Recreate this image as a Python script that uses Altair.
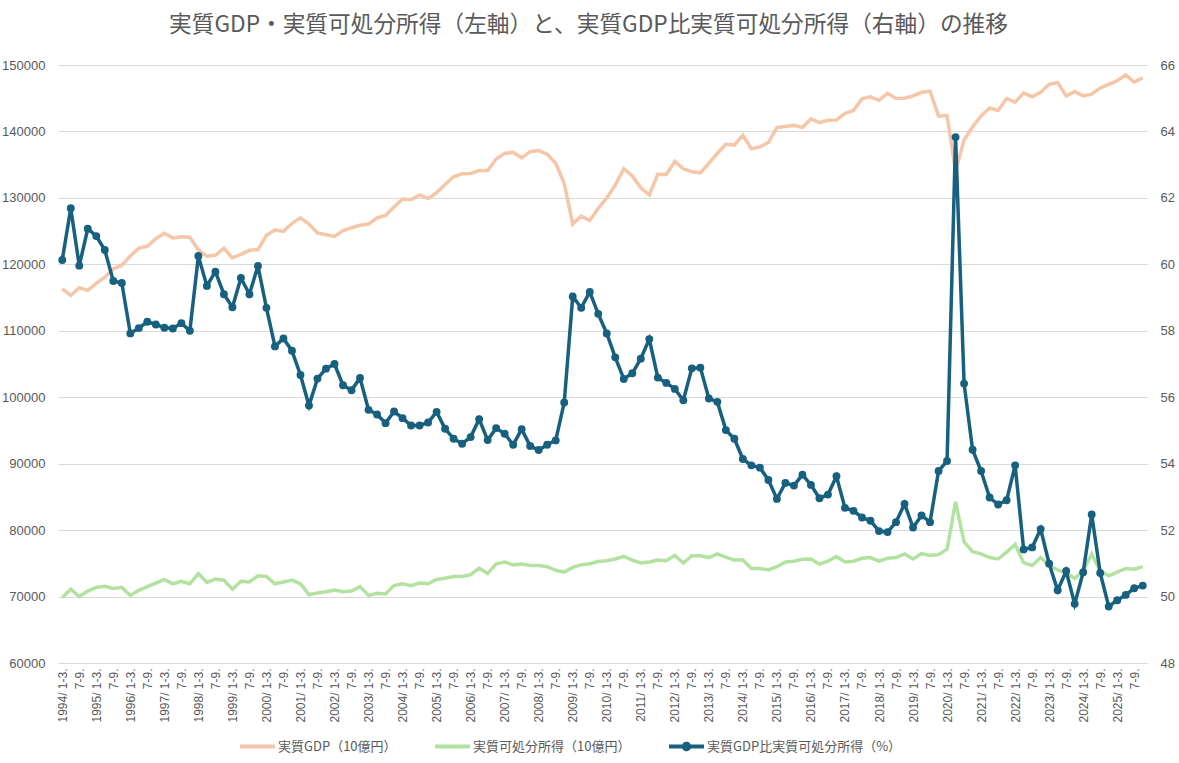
import altair as alt
import pandas as pd

years = list(range(1994, 2026))
quarters = ["1-3.", "4-6.", "7-9.", "10-12."]
periods = [f"{y}/ {q}" for y in years for q in quarters]

series_names = ["実質GDP（10億円）", "実質可処分所得（10億円）", "実質GDP比実質可処分所得（%）"]
series_colors = ["#F5C6A8", "#B3E2A0", "#17607F"]

gdp = [
    116300, 115320, 116470, 116090, 117130, 118060, 119320, 119870,
    121240, 122440, 122710, 123860, 124690, 123980, 124140, 124080,
    122170, 121240, 121350, 122440, 120960, 121510, 122110, 122220,
    124360, 125180, 124960, 126170, 126990, 126060, 124740, 124450,
    124190, 125070, 125510, 125890, 126060, 126990, 127370, 128630,
    129840, 129730, 130440, 129890, 130770, 132030, 133180, 133620,
    133670, 134110, 134110, 135860, 136690, 136850, 136030, 136960,
    137120, 136580, 135210, 132190, 126060, 127260, 126600, 128440,
    130000, 131920, 134380, 133290, 131530, 130440, 133560, 133510,
    135480, 134380, 133950, 133780, 135210, 136690, 138060, 137950,
    139430, 137400, 137670, 138330, 140580, 140740, 140910, 140580,
    141890, 141340, 141670, 141730, 142710, 143150, 144900, 145200,
    144690, 145730, 144960, 145010, 145340, 145890, 146060, 142300,
    142400, 134000, 138700, 140690, 142330, 143530, 143150, 144960,
    144410, 145780, 145230, 145890, 147100, 147370, 145340, 146000,
    145340, 145620, 146550, 147100, 147640, 148520, 147420, 148080,
]

income = [
    69840, 71100, 70000, 70830, 71380, 71540, 71210, 71380,
    70170, 70940, 71490, 72030, 72580, 71920, 72310, 71920,
    73460, 72140, 72640, 72470, 71100, 72310, 72200, 73130,
    73020, 71920, 72200, 72470, 71920, 70280, 70550, 70720,
    70990, 70720, 70830, 71490, 70170, 70500, 70390, 71650,
    71920, 71650, 72030, 71920, 72580, 72750, 73020, 73020,
    73290, 74280, 73460, 74940, 75210, 74770, 74880, 74660,
    74660, 74500, 73950, 73680, 74390, 74770, 74940, 75270,
    75380, 75650, 76040, 75490, 75050, 75210, 75490, 75380,
    76200, 75050, 76150, 76150, 75870, 76420, 75930, 75490,
    75490, 74230, 74230, 74010, 74500, 75210, 75320, 75600,
    75650, 74880, 75320, 76040, 75210, 75320, 75760, 75870,
    75320, 75760, 75870, 76420, 75650, 76480, 76200, 76310,
    77130, 84250, 78230, 76750, 76420, 75870, 75650, 76690,
    77840, 75100, 74660, 75870, 74660, 74010, 73570, 72750,
    73840, 76420, 73840, 73130, 73680, 74230, 74120, 74500,
]

ratio = [
    60.13, 61.69, 59.96, 61.07, 60.85, 60.43, 59.50, 59.44,
    57.92, 58.08, 58.27, 58.19, 58.09, 58.07, 58.23, 58.00,
    60.25, 59.35, 59.78, 59.10, 58.71, 59.59, 59.10, 59.95,
    58.69, 57.53, 57.77, 57.40, 56.67, 55.75, 56.56, 56.86,
    57.00, 56.36, 56.21, 56.58, 55.62, 55.48, 55.22, 55.57,
    55.37, 55.15, 55.15, 55.24, 55.56, 55.05, 54.75, 54.60,
    54.80, 55.34, 54.71, 55.07, 54.90, 54.57, 55.04, 54.53,
    54.41, 54.57, 54.70, 55.84, 59.03, 58.69, 59.17, 58.51,
    57.92, 57.20, 56.55, 56.72, 57.16, 57.75, 56.59, 56.43,
    56.25, 55.91, 56.87, 56.89, 55.96, 55.86, 55.01, 54.75,
    54.14, 53.95, 53.88, 53.51, 52.94, 53.42, 53.34, 53.67,
    53.36, 52.96, 53.07, 53.62, 52.67, 52.58, 52.38, 52.28,
    51.97, 51.94, 52.24, 52.79, 52.08, 52.44, 52.24, 53.78,
    54.08, 63.83, 56.41, 54.42, 53.78, 52.98, 52.77, 52.90,
    53.95, 51.42, 51.48, 52.03, 50.99, 50.19, 50.77, 49.78,
    50.73, 52.47, 50.71, 49.70, 49.89, 50.05, 50.25, 50.33,
]

left_ticks = list(range(60000, 150001, 10000))
right_ticks = list(range(48, 67, 2))

left_df = pd.DataFrame(
    {
        "period": periods * 2,
        "series": [series_names[0]] * len(periods) + [series_names[1]] * len(periods),
        "value": gdp + income,
    }
)
right_df = pd.DataFrame(
    {"period": periods, "series": [series_names[2]] * len(periods), "value": ratio}
)

GRAY = "#595959"
NUM_FONT = "Liberation Sans"
JP_FONT = "Noto Sans CJK JP"

# legend symbols: a thick line, and a thick line with a dot for the marker series
LINE_SYM = "M-1,-0.12H1V0.12H-1Z"
DOT_SYM = "M-1,-0.12H1V0.12H-1Z M-0.27,0A0.27,0.27 0 1,1 0.27,0A0.27,0.27 0 1,1 -0.27,0Z"

label_expr = (
    "indexof(datum.value, '4-6.') >= 0 || indexof(datum.value, '10-12.') >= 0 ? '' : "
    "(indexof(datum.value, '7-9.') >= 0 ? '7-9.' : datum.value)"
)

x_enc = alt.X(
    "period:N",
    sort=periods,
    scale=alt.Scale(type="point", padding=0.5),
    axis=alt.Axis(
        title=None,
        labelAngle=-90,
        labelExpr=label_expr,
        ticks=False,
        domain=False,
        grid=False,
        labelFont=NUM_FONT,
        labelFontSize=12,
        labelColor=GRAY,
        labelPadding=5,
        labelOverlap=False,
    ),
)

legend_spec = alt.Legend(
    title=None,
    orient="none",
    legendX=182,
    legendY=664,
    direction="horizontal",
    labelFont=JP_FONT,
    labelFontSize=13,
    labelColor=GRAY,
    symbolSize=1225,
    symbolStrokeWidth=0,
    columnPadding=38,
    gridAlign="none",
    labelLimit=400,
    labelOffset=3,
)

color_enc = alt.Color(
    "series:N",
    scale=alt.Scale(domain=series_names, range=series_colors),
    legend=legend_spec,
)
shape_enc = alt.Shape(
    "series:N",
    scale=alt.Scale(domain=series_names, range=[LINE_SYM, LINE_SYM, DOT_SYM]),
    legend=legend_spec,
)

left = alt.Chart(left_df).mark_line(strokeWidth=3.5).encode(
    x=x_enc,
    y=alt.Y(
        "value:Q",
        scale=alt.Scale(domain=[60000, 150000], nice=False, zero=False),
        axis=alt.Axis(
            title=None,
            orient="left",
            values=left_ticks,
            format="d",
            grid=True,
            gridColor="#D9D9D9",
            gridWidth=1,
            ticks=False,
            domain=False,
            labelFont=NUM_FONT,
            labelFontSize=13,
            labelColor=GRAY,
            labelPadding=13,
        ),
    ),
    color=color_enc,
)

right_y = alt.Y(
    "value:Q",
    scale=alt.Scale(domain=[48, 66], nice=False, zero=False),
    axis=alt.Axis(
        title=None,
        orient="right",
        values=right_ticks,
        format="d",
        grid=False,
        ticks=False,
        domain=False,
        labelFont=NUM_FONT,
        labelFontSize=13,
        labelColor=GRAY,
        labelPadding=13,
    ),
)

right_line = alt.Chart(right_df).mark_line(strokeWidth=3.5).encode(
    x=x_enc, y=right_y, color=color_enc
)
right_pts = alt.Chart(right_df).mark_circle(size=62, opacity=1).encode(
    x=x_enc, y=right_y, color=color_enc
)
# empty layer that only contributes the legend symbol shapes
legend_layer = (
    alt.Chart(right_df)
    .transform_filter("false")
    .mark_point(filled=True, opacity=1)
    .encode(x=x_enc, y=right_y, color=color_enc, shape=shape_enc)
)

right = alt.layer(right_line, right_pts, legend_layer)

chart = (
    alt.layer(left, right)
    .resolve_scale(y="independent")
    .properties(
        width=1089,
        height=598,
        padding={"left": 58, "top": 65, "right": 32, "bottom": 100},
        autosize=alt.AutoSizeParams(type="none"),
        background="white",
        title=alt.TitleParams(
            "実質GDP・実質可処分所得（左軸）と、実質GDP比実質可処分所得（右軸）の推移",
            font=JP_FONT,
            fontSize=22.7,
            fontWeight="normal",
            color=GRAY,
            anchor="middle",
            offset=22,
            dx=-14,
        ),
    )
    .configure_view(stroke=None)
)

chart.save("out.html", embed_options={"renderer": "svg", "actions": False})
